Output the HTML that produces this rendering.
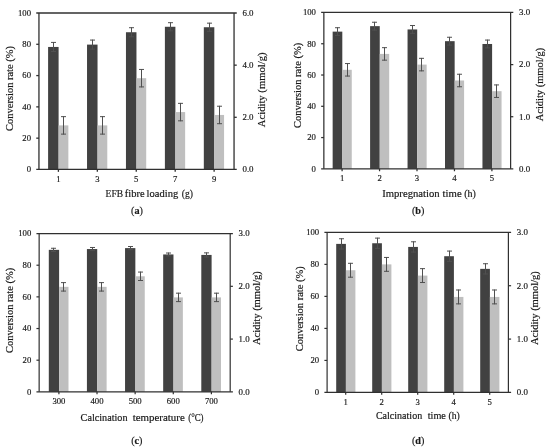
<!DOCTYPE html>
<html><head><meta charset="utf-8"><title>Figure</title>
<style>html,body{margin:0;padding:0;background:#fff;}svg{display:block}text{font-family:"Liberation Serif",serif;fill:#181818;stroke:#181818;stroke-width:0.17px;}</style>
</head><body>
<svg width="550" height="448" viewBox="0 0 550 448">
<rect width="550" height="448" fill="#ffffff"/>
<g id="chart-a">
<rect x="48.10" y="46.95" width="10.50" height="122.50" fill="#414141"/>
<rect x="58.60" y="125.38" width="9.75" height="44.07" fill="#bfbfbf"/>
<line x1="53.50" y1="42.01" x2="53.50" y2="51.89" stroke="#505050" stroke-width="1.0"/>
<line x1="51.00" y1="42.41" x2="56.00" y2="42.41" stroke="#505050" stroke-width="1.0"/>
<line x1="51.00" y1="51.49" x2="56.00" y2="51.49" stroke="#505050" stroke-width="1.0"/>
<line x1="63.50" y1="116.25" x2="63.50" y2="134.52" stroke="#505050" stroke-width="1.0"/>
<line x1="61.00" y1="116.65" x2="66.00" y2="116.65" stroke="#505050" stroke-width="1.0"/>
<line x1="61.00" y1="134.12" x2="66.00" y2="134.12" stroke="#505050" stroke-width="1.0"/>
<rect x="87.03" y="44.60" width="10.50" height="124.85" fill="#414141"/>
<rect x="97.53" y="125.38" width="9.75" height="44.07" fill="#bfbfbf"/>
<line x1="92.50" y1="39.67" x2="92.50" y2="49.54" stroke="#505050" stroke-width="1.0"/>
<line x1="90.00" y1="40.07" x2="95.00" y2="40.07" stroke="#505050" stroke-width="1.0"/>
<line x1="90.00" y1="49.14" x2="95.00" y2="49.14" stroke="#505050" stroke-width="1.0"/>
<line x1="102.50" y1="116.25" x2="102.50" y2="134.52" stroke="#505050" stroke-width="1.0"/>
<line x1="100.00" y1="116.65" x2="105.00" y2="116.65" stroke="#505050" stroke-width="1.0"/>
<line x1="100.00" y1="134.12" x2="105.00" y2="134.12" stroke="#505050" stroke-width="1.0"/>
<rect x="125.96" y="32.24" width="10.50" height="137.21" fill="#414141"/>
<rect x="136.46" y="78.19" width="9.75" height="91.26" fill="#bfbfbf"/>
<line x1="131.50" y1="27.31" x2="131.50" y2="37.18" stroke="#505050" stroke-width="1.0"/>
<line x1="129.00" y1="27.71" x2="134.00" y2="27.71" stroke="#505050" stroke-width="1.0"/>
<line x1="129.00" y1="36.78" x2="134.00" y2="36.78" stroke="#505050" stroke-width="1.0"/>
<line x1="141.50" y1="69.05" x2="141.50" y2="87.32" stroke="#505050" stroke-width="1.0"/>
<line x1="139.00" y1="69.45" x2="144.00" y2="69.45" stroke="#505050" stroke-width="1.0"/>
<line x1="139.00" y1="86.92" x2="144.00" y2="86.92" stroke="#505050" stroke-width="1.0"/>
<rect x="164.89" y="26.77" width="10.50" height="142.68" fill="#414141"/>
<rect x="175.39" y="112.08" width="9.75" height="57.37" fill="#bfbfbf"/>
<line x1="170.50" y1="22.30" x2="170.50" y2="31.24" stroke="#505050" stroke-width="1.0"/>
<line x1="168.00" y1="22.70" x2="173.00" y2="22.70" stroke="#505050" stroke-width="1.0"/>
<line x1="168.00" y1="30.84" x2="173.00" y2="30.84" stroke="#505050" stroke-width="1.0"/>
<line x1="180.50" y1="102.95" x2="180.50" y2="121.22" stroke="#505050" stroke-width="1.0"/>
<line x1="178.00" y1="103.35" x2="183.00" y2="103.35" stroke="#505050" stroke-width="1.0"/>
<line x1="178.00" y1="120.82" x2="183.00" y2="120.82" stroke="#505050" stroke-width="1.0"/>
<rect x="203.82" y="27.24" width="10.50" height="142.21" fill="#414141"/>
<rect x="214.32" y="114.95" width="9.75" height="54.50" fill="#bfbfbf"/>
<line x1="209.50" y1="22.77" x2="209.50" y2="31.70" stroke="#505050" stroke-width="1.0"/>
<line x1="207.00" y1="23.17" x2="212.00" y2="23.17" stroke="#505050" stroke-width="1.0"/>
<line x1="207.00" y1="31.30" x2="212.00" y2="31.30" stroke="#505050" stroke-width="1.0"/>
<line x1="219.50" y1="105.82" x2="219.50" y2="124.09" stroke="#505050" stroke-width="1.0"/>
<line x1="217.00" y1="106.22" x2="222.00" y2="106.22" stroke="#505050" stroke-width="1.0"/>
<line x1="217.00" y1="123.69" x2="222.00" y2="123.69" stroke="#505050" stroke-width="1.0"/>
<line x1="38.95" y1="13.00" x2="38.95" y2="169.45" stroke="#303030" stroke-width="1.3"/>
<line x1="234.05" y1="13.00" x2="234.05" y2="169.45" stroke="#303030" stroke-width="1.3"/>
<line x1="36.25" y1="13.00" x2="236.75" y2="13.00" stroke="#303030" stroke-width="1.3"/>
<line x1="36.25" y1="169.45" x2="236.75" y2="169.45" stroke="#303030" stroke-width="1.3"/>
<text x="31.05" y="172.30" font-size="8.7" text-anchor="end" >0</text>
<line x1="36.25" y1="138.16" x2="38.95" y2="138.16" stroke="#303030" stroke-width="1.3"/>
<text x="31.05" y="141.01" font-size="8.7" text-anchor="end" >20</text>
<line x1="36.25" y1="106.87" x2="38.95" y2="106.87" stroke="#303030" stroke-width="1.3"/>
<text x="31.05" y="109.72" font-size="8.7" text-anchor="end" >40</text>
<line x1="36.25" y1="75.58" x2="38.95" y2="75.58" stroke="#303030" stroke-width="1.3"/>
<text x="31.05" y="78.43" font-size="8.7" text-anchor="end" >60</text>
<line x1="36.25" y1="44.29" x2="38.95" y2="44.29" stroke="#303030" stroke-width="1.3"/>
<text x="31.05" y="47.14" font-size="8.7" text-anchor="end" >80</text>
<text x="31.05" y="15.85" font-size="8.7" text-anchor="end" >100</text>
<text x="242.45" y="172.30" font-size="8.7" text-anchor="start" textLength="11.1" lengthAdjust="spacingAndGlyphs">0.0</text>
<line x1="234.05" y1="117.30" x2="236.75" y2="117.30" stroke="#303030" stroke-width="1.3"/>
<text x="242.45" y="120.15" font-size="8.7" text-anchor="start" textLength="11.1" lengthAdjust="spacingAndGlyphs">2.0</text>
<line x1="234.05" y1="65.15" x2="236.75" y2="65.15" stroke="#303030" stroke-width="1.3"/>
<text x="242.45" y="68.00" font-size="8.7" text-anchor="start" textLength="11.1" lengthAdjust="spacingAndGlyphs">4.0</text>
<text x="242.45" y="15.85" font-size="8.7" text-anchor="start" textLength="11.1" lengthAdjust="spacingAndGlyphs">6.0</text>
<line x1="58.40" y1="169.45" x2="58.40" y2="171.85" stroke="#303030" stroke-width="1.3"/>
<text x="58.40" y="181.85" font-size="8.7" text-anchor="middle" >1</text>
<line x1="97.33" y1="169.45" x2="97.33" y2="171.85" stroke="#303030" stroke-width="1.3"/>
<text x="97.33" y="181.85" font-size="8.7" text-anchor="middle" >3</text>
<line x1="136.26" y1="169.45" x2="136.26" y2="171.85" stroke="#303030" stroke-width="1.3"/>
<text x="136.26" y="181.85" font-size="8.7" text-anchor="middle" >5</text>
<line x1="175.19" y1="169.45" x2="175.19" y2="171.85" stroke="#303030" stroke-width="1.3"/>
<text x="175.19" y="181.85" font-size="8.7" text-anchor="middle" >7</text>
<line x1="214.12" y1="169.45" x2="214.12" y2="171.85" stroke="#303030" stroke-width="1.3"/>
<text x="214.12" y="181.85" font-size="8.7" text-anchor="middle" >9</text>
<text x="105.60" y="197.00" font-size="9.7" text-anchor="start" textLength="17.4" lengthAdjust="spacingAndGlyphs">EFB</text>
<text x="124.80" y="197.00" font-size="9.7" text-anchor="start" textLength="19.8" lengthAdjust="spacingAndGlyphs">fibre</text>
<text x="146.60" y="197.00" font-size="9.7" text-anchor="start" textLength="31.6" lengthAdjust="spacingAndGlyphs">loading</text>
<text x="181.80" y="197.00" font-size="9.7" text-anchor="start" textLength="11.2" lengthAdjust="spacingAndGlyphs">(g)</text>
<text x="137.00" y="213.80" font-size="10.2" text-anchor="middle" >(<tspan font-weight="bold">a</tspan>)</text>
<text transform="translate(13.3,130.9) rotate(-90)" font-size="9.7" textLength="84.9" lengthAdjust="spacingAndGlyphs">Conversion rate (%)</text>
<text transform="translate(264.6,127.2) rotate(-90)" font-size="9.7" textLength="74.7" lengthAdjust="spacingAndGlyphs">Acidity (mmol/g)</text>
</g>
<g id="chart-b">
<rect x="332.65" y="31.63" width="9.65" height="137.22" fill="#414141"/>
<rect x="342.30" y="69.81" width="9.45" height="99.04" fill="#bfbfbf"/>
<line x1="337.50" y1="27.32" x2="337.50" y2="35.94" stroke="#505050" stroke-width="1.0"/>
<line x1="335.00" y1="27.72" x2="340.00" y2="27.72" stroke="#505050" stroke-width="1.0"/>
<line x1="335.00" y1="35.54" x2="340.00" y2="35.54" stroke="#505050" stroke-width="1.0"/>
<line x1="347.50" y1="63.15" x2="347.50" y2="76.46" stroke="#505050" stroke-width="1.0"/>
<line x1="345.00" y1="63.55" x2="350.00" y2="63.55" stroke="#505050" stroke-width="1.0"/>
<line x1="345.00" y1="76.06" x2="350.00" y2="76.06" stroke="#505050" stroke-width="1.0"/>
<rect x="370.10" y="26.15" width="9.65" height="142.70" fill="#414141"/>
<rect x="379.75" y="53.91" width="9.45" height="114.94" fill="#bfbfbf"/>
<line x1="374.50" y1="21.84" x2="374.50" y2="30.46" stroke="#505050" stroke-width="1.0"/>
<line x1="372.00" y1="22.24" x2="377.00" y2="22.24" stroke="#505050" stroke-width="1.0"/>
<line x1="372.00" y1="30.06" x2="377.00" y2="30.06" stroke="#505050" stroke-width="1.0"/>
<line x1="384.50" y1="47.26" x2="384.50" y2="60.57" stroke="#505050" stroke-width="1.0"/>
<line x1="382.00" y1="47.66" x2="387.00" y2="47.66" stroke="#505050" stroke-width="1.0"/>
<line x1="382.00" y1="60.17" x2="387.00" y2="60.17" stroke="#505050" stroke-width="1.0"/>
<rect x="407.55" y="29.44" width="9.65" height="139.41" fill="#414141"/>
<rect x="417.20" y="64.60" width="9.45" height="104.25" fill="#bfbfbf"/>
<line x1="412.50" y1="25.13" x2="412.50" y2="33.75" stroke="#505050" stroke-width="1.0"/>
<line x1="410.00" y1="25.53" x2="415.00" y2="25.53" stroke="#505050" stroke-width="1.0"/>
<line x1="410.00" y1="33.35" x2="415.00" y2="33.35" stroke="#505050" stroke-width="1.0"/>
<line x1="421.50" y1="57.94" x2="421.50" y2="71.25" stroke="#505050" stroke-width="1.0"/>
<line x1="419.00" y1="58.34" x2="424.00" y2="58.34" stroke="#505050" stroke-width="1.0"/>
<line x1="419.00" y1="70.85" x2="424.00" y2="70.85" stroke="#505050" stroke-width="1.0"/>
<rect x="445.00" y="41.17" width="9.65" height="127.68" fill="#414141"/>
<rect x="454.65" y="80.50" width="9.45" height="88.35" fill="#bfbfbf"/>
<line x1="449.50" y1="36.86" x2="449.50" y2="45.48" stroke="#505050" stroke-width="1.0"/>
<line x1="447.00" y1="37.26" x2="452.00" y2="37.26" stroke="#505050" stroke-width="1.0"/>
<line x1="447.00" y1="45.08" x2="452.00" y2="45.08" stroke="#505050" stroke-width="1.0"/>
<line x1="459.50" y1="73.84" x2="459.50" y2="87.15" stroke="#505050" stroke-width="1.0"/>
<line x1="457.00" y1="74.24" x2="462.00" y2="74.24" stroke="#505050" stroke-width="1.0"/>
<line x1="457.00" y1="86.75" x2="462.00" y2="86.75" stroke="#505050" stroke-width="1.0"/>
<rect x="482.45" y="43.98" width="9.65" height="124.87" fill="#414141"/>
<rect x="492.10" y="91.18" width="9.45" height="77.67" fill="#bfbfbf"/>
<line x1="487.50" y1="39.67" x2="487.50" y2="48.29" stroke="#505050" stroke-width="1.0"/>
<line x1="485.00" y1="40.07" x2="490.00" y2="40.07" stroke="#505050" stroke-width="1.0"/>
<line x1="485.00" y1="47.89" x2="490.00" y2="47.89" stroke="#505050" stroke-width="1.0"/>
<line x1="496.50" y1="84.53" x2="496.50" y2="97.84" stroke="#505050" stroke-width="1.0"/>
<line x1="494.00" y1="84.93" x2="499.00" y2="84.93" stroke="#505050" stroke-width="1.0"/>
<line x1="494.00" y1="97.44" x2="499.00" y2="97.44" stroke="#505050" stroke-width="1.0"/>
<line x1="323.85" y1="12.47" x2="323.85" y2="168.85" stroke="#303030" stroke-width="1.25"/>
<line x1="510.60" y1="12.47" x2="510.60" y2="168.85" stroke="#303030" stroke-width="1.25"/>
<line x1="321.15" y1="12.47" x2="513.30" y2="12.47" stroke="#303030" stroke-width="1.25"/>
<line x1="321.15" y1="168.85" x2="513.30" y2="168.85" stroke="#303030" stroke-width="1.25"/>
<text x="315.95" y="171.70" font-size="8.7" text-anchor="end" >0</text>
<line x1="321.15" y1="137.57" x2="323.85" y2="137.57" stroke="#303030" stroke-width="1.25"/>
<text x="315.95" y="140.42" font-size="8.7" text-anchor="end" >20</text>
<line x1="321.15" y1="106.30" x2="323.85" y2="106.30" stroke="#303030" stroke-width="1.25"/>
<text x="315.95" y="109.15" font-size="8.7" text-anchor="end" >40</text>
<line x1="321.15" y1="75.02" x2="323.85" y2="75.02" stroke="#303030" stroke-width="1.25"/>
<text x="315.95" y="77.87" font-size="8.7" text-anchor="end" >60</text>
<line x1="321.15" y1="43.75" x2="323.85" y2="43.75" stroke="#303030" stroke-width="1.25"/>
<text x="315.95" y="46.60" font-size="8.7" text-anchor="end" >80</text>
<text x="315.95" y="15.32" font-size="8.7" text-anchor="end" >100</text>
<text x="519.00" y="171.70" font-size="8.7" text-anchor="start" textLength="11.1" lengthAdjust="spacingAndGlyphs">0.0</text>
<line x1="510.60" y1="116.72" x2="513.30" y2="116.72" stroke="#303030" stroke-width="1.25"/>
<text x="519.00" y="119.57" font-size="8.7" text-anchor="start" textLength="11.1" lengthAdjust="spacingAndGlyphs">1.0</text>
<line x1="510.60" y1="64.60" x2="513.30" y2="64.60" stroke="#303030" stroke-width="1.25"/>
<text x="519.00" y="67.45" font-size="8.7" text-anchor="start" textLength="11.1" lengthAdjust="spacingAndGlyphs">2.0</text>
<text x="519.00" y="15.32" font-size="8.7" text-anchor="start" textLength="11.1" lengthAdjust="spacingAndGlyphs">3.0</text>
<line x1="342.10" y1="168.85" x2="342.10" y2="171.25" stroke="#303030" stroke-width="1.25"/>
<text x="342.10" y="181.25" font-size="8.7" text-anchor="middle" >1</text>
<line x1="379.55" y1="168.85" x2="379.55" y2="171.25" stroke="#303030" stroke-width="1.25"/>
<text x="379.55" y="181.25" font-size="8.7" text-anchor="middle" >2</text>
<line x1="417.00" y1="168.85" x2="417.00" y2="171.25" stroke="#303030" stroke-width="1.25"/>
<text x="417.00" y="181.25" font-size="8.7" text-anchor="middle" >3</text>
<line x1="454.45" y1="168.85" x2="454.45" y2="171.25" stroke="#303030" stroke-width="1.25"/>
<text x="454.45" y="181.25" font-size="8.7" text-anchor="middle" >4</text>
<line x1="491.90" y1="168.85" x2="491.90" y2="171.25" stroke="#303030" stroke-width="1.25"/>
<text x="491.90" y="181.25" font-size="8.7" text-anchor="middle" >5</text>
<text x="382.20" y="197.20" font-size="9.7" text-anchor="start" textLength="57.5" lengthAdjust="spacingAndGlyphs">Impregnation</text>
<text x="442.60" y="197.20" font-size="9.7" text-anchor="start" textLength="19.1" lengthAdjust="spacingAndGlyphs">time</text>
<text x="464.20" y="197.20" font-size="9.7" text-anchor="start" textLength="11.6" lengthAdjust="spacingAndGlyphs">(h)</text>
<text x="418.20" y="213.80" font-size="10.2" text-anchor="middle" >(<tspan font-weight="bold">b</tspan>)</text>
<text transform="translate(300.9,128.0) rotate(-90)" font-size="9.7" textLength="85.2" lengthAdjust="spacingAndGlyphs">Conversion rate (%)</text>
<text transform="translate(543.4,121.3) rotate(-90)" font-size="9.7" textLength="73.5" lengthAdjust="spacingAndGlyphs">Acidity (mmol/g)</text>
</g>
<g id="chart-c">
<rect x="48.80" y="249.85" width="10.30" height="142.00" fill="#414141"/>
<rect x="59.10" y="286.84" width="9.40" height="105.01" fill="#bfbfbf"/>
<line x1="53.50" y1="247.87" x2="53.50" y2="251.84" stroke="#505050" stroke-width="1.0"/>
<line x1="51.00" y1="248.27" x2="56.00" y2="248.27" stroke="#505050" stroke-width="1.0"/>
<line x1="51.00" y1="251.44" x2="56.00" y2="251.44" stroke="#505050" stroke-width="1.0"/>
<line x1="63.50" y1="282.22" x2="63.50" y2="291.47" stroke="#505050" stroke-width="1.0"/>
<line x1="61.00" y1="282.62" x2="66.00" y2="282.62" stroke="#505050" stroke-width="1.0"/>
<line x1="61.00" y1="291.07" x2="66.00" y2="291.07" stroke="#505050" stroke-width="1.0"/>
<rect x="86.92" y="249.06" width="10.30" height="142.79" fill="#414141"/>
<rect x="97.22" y="286.84" width="9.40" height="105.01" fill="#bfbfbf"/>
<line x1="92.50" y1="247.08" x2="92.50" y2="251.05" stroke="#505050" stroke-width="1.0"/>
<line x1="90.00" y1="247.48" x2="95.00" y2="247.48" stroke="#505050" stroke-width="1.0"/>
<line x1="90.00" y1="250.65" x2="95.00" y2="250.65" stroke="#505050" stroke-width="1.0"/>
<line x1="101.50" y1="282.22" x2="101.50" y2="291.47" stroke="#505050" stroke-width="1.0"/>
<line x1="99.00" y1="282.62" x2="104.00" y2="282.62" stroke="#505050" stroke-width="1.0"/>
<line x1="99.00" y1="291.07" x2="104.00" y2="291.07" stroke="#505050" stroke-width="1.0"/>
<rect x="125.05" y="248.11" width="10.30" height="143.74" fill="#414141"/>
<rect x="135.35" y="276.29" width="9.40" height="115.56" fill="#bfbfbf"/>
<line x1="130.50" y1="246.13" x2="130.50" y2="250.10" stroke="#505050" stroke-width="1.0"/>
<line x1="128.00" y1="246.53" x2="133.00" y2="246.53" stroke="#505050" stroke-width="1.0"/>
<line x1="128.00" y1="249.70" x2="133.00" y2="249.70" stroke="#505050" stroke-width="1.0"/>
<line x1="140.50" y1="271.67" x2="140.50" y2="280.91" stroke="#505050" stroke-width="1.0"/>
<line x1="138.00" y1="272.07" x2="143.00" y2="272.07" stroke="#505050" stroke-width="1.0"/>
<line x1="138.00" y1="280.51" x2="143.00" y2="280.51" stroke="#505050" stroke-width="1.0"/>
<rect x="163.17" y="254.45" width="10.30" height="137.40" fill="#414141"/>
<rect x="173.47" y="297.40" width="9.40" height="94.45" fill="#bfbfbf"/>
<line x1="168.50" y1="252.62" x2="168.50" y2="256.27" stroke="#505050" stroke-width="1.0"/>
<line x1="166.00" y1="253.02" x2="171.00" y2="253.02" stroke="#505050" stroke-width="1.0"/>
<line x1="166.00" y1="255.87" x2="171.00" y2="255.87" stroke="#505050" stroke-width="1.0"/>
<line x1="178.50" y1="292.78" x2="178.50" y2="302.02" stroke="#505050" stroke-width="1.0"/>
<line x1="176.00" y1="293.18" x2="181.00" y2="293.18" stroke="#505050" stroke-width="1.0"/>
<line x1="176.00" y1="301.62" x2="181.00" y2="301.62" stroke="#505050" stroke-width="1.0"/>
<rect x="201.30" y="254.92" width="10.30" height="136.93" fill="#414141"/>
<rect x="211.60" y="297.40" width="9.40" height="94.45" fill="#bfbfbf"/>
<line x1="206.50" y1="252.46" x2="206.50" y2="257.38" stroke="#505050" stroke-width="1.0"/>
<line x1="204.00" y1="252.86" x2="209.00" y2="252.86" stroke="#505050" stroke-width="1.0"/>
<line x1="204.00" y1="256.98" x2="209.00" y2="256.98" stroke="#505050" stroke-width="1.0"/>
<line x1="216.50" y1="292.78" x2="216.50" y2="302.02" stroke="#505050" stroke-width="1.0"/>
<line x1="214.00" y1="293.18" x2="219.00" y2="293.18" stroke="#505050" stroke-width="1.0"/>
<line x1="214.00" y1="301.62" x2="219.00" y2="301.62" stroke="#505050" stroke-width="1.0"/>
<line x1="39.15" y1="233.55" x2="39.15" y2="391.85" stroke="#303030" stroke-width="1.2"/>
<line x1="230.20" y1="233.55" x2="230.20" y2="391.85" stroke="#303030" stroke-width="1.2"/>
<line x1="36.45" y1="233.55" x2="232.90" y2="233.55" stroke="#303030" stroke-width="1.2"/>
<line x1="36.45" y1="391.85" x2="232.90" y2="391.85" stroke="#303030" stroke-width="1.2"/>
<text x="31.25" y="394.70" font-size="8.7" text-anchor="end" >0</text>
<line x1="36.45" y1="360.19" x2="39.15" y2="360.19" stroke="#303030" stroke-width="1.2"/>
<text x="31.25" y="363.04" font-size="8.7" text-anchor="end" >20</text>
<line x1="36.45" y1="328.53" x2="39.15" y2="328.53" stroke="#303030" stroke-width="1.2"/>
<text x="31.25" y="331.38" font-size="8.7" text-anchor="end" >40</text>
<line x1="36.45" y1="296.87" x2="39.15" y2="296.87" stroke="#303030" stroke-width="1.2"/>
<text x="31.25" y="299.72" font-size="8.7" text-anchor="end" >60</text>
<line x1="36.45" y1="265.21" x2="39.15" y2="265.21" stroke="#303030" stroke-width="1.2"/>
<text x="31.25" y="268.06" font-size="8.7" text-anchor="end" >80</text>
<text x="31.25" y="236.40" font-size="8.7" text-anchor="end" >100</text>
<text x="238.60" y="394.70" font-size="8.7" text-anchor="start" textLength="11.1" lengthAdjust="spacingAndGlyphs">0.0</text>
<line x1="230.20" y1="339.08" x2="232.90" y2="339.08" stroke="#303030" stroke-width="1.2"/>
<text x="238.60" y="341.93" font-size="8.7" text-anchor="start" textLength="11.1" lengthAdjust="spacingAndGlyphs">1.0</text>
<line x1="230.20" y1="286.32" x2="232.90" y2="286.32" stroke="#303030" stroke-width="1.2"/>
<text x="238.60" y="289.17" font-size="8.7" text-anchor="start" textLength="11.1" lengthAdjust="spacingAndGlyphs">2.0</text>
<text x="238.60" y="236.40" font-size="8.7" text-anchor="start" textLength="11.1" lengthAdjust="spacingAndGlyphs">3.0</text>
<line x1="58.90" y1="391.85" x2="58.90" y2="394.25" stroke="#303030" stroke-width="1.2"/>
<text x="58.90" y="404.25" font-size="8.7" text-anchor="middle" >300</text>
<line x1="97.02" y1="391.85" x2="97.02" y2="394.25" stroke="#303030" stroke-width="1.2"/>
<text x="97.02" y="404.25" font-size="8.7" text-anchor="middle" >400</text>
<line x1="135.15" y1="391.85" x2="135.15" y2="394.25" stroke="#303030" stroke-width="1.2"/>
<text x="135.15" y="404.25" font-size="8.7" text-anchor="middle" >500</text>
<line x1="173.28" y1="391.85" x2="173.28" y2="394.25" stroke="#303030" stroke-width="1.2"/>
<text x="173.28" y="404.25" font-size="8.7" text-anchor="middle" >600</text>
<line x1="211.40" y1="391.85" x2="211.40" y2="394.25" stroke="#303030" stroke-width="1.2"/>
<text x="211.40" y="404.25" font-size="8.7" text-anchor="middle" >700</text>
<text x="80.60" y="421.40" font-size="9.7" text-anchor="start" textLength="46.9" lengthAdjust="spacingAndGlyphs">Calcination</text>
<text x="132.70" y="421.40" font-size="9.7" text-anchor="start" textLength="52.1" lengthAdjust="spacingAndGlyphs">temperature</text>
<text x="188.20" y="421.40" font-size="9.7" text-anchor="start" textLength="15.4" lengthAdjust="spacingAndGlyphs">(°C)</text>
<text x="136.80" y="443.60" font-size="10.2" text-anchor="middle" >(<tspan font-weight="bold">c</tspan>)</text>
<text transform="translate(12.9,353.0) rotate(-90)" font-size="9.7" textLength="85.2" lengthAdjust="spacingAndGlyphs">Conversion rate (%)</text>
<text transform="translate(260.2,345.0) rotate(-90)" font-size="9.7" textLength="73.8" lengthAdjust="spacingAndGlyphs">Acidity (mmol/g)</text>
</g>
<g id="chart-d">
<rect x="336.20" y="243.89" width="9.70" height="148.56" fill="#414141"/>
<rect x="345.90" y="270.25" width="9.50" height="122.20" fill="#bfbfbf"/>
<line x1="341.50" y1="238.36" x2="341.50" y2="249.41" stroke="#505050" stroke-width="1.0"/>
<line x1="339.00" y1="238.76" x2="344.00" y2="238.76" stroke="#505050" stroke-width="1.0"/>
<line x1="339.00" y1="249.01" x2="344.00" y2="249.01" stroke="#505050" stroke-width="1.0"/>
<line x1="350.50" y1="262.91" x2="350.50" y2="277.59" stroke="#505050" stroke-width="1.0"/>
<line x1="348.00" y1="263.31" x2="353.00" y2="263.31" stroke="#505050" stroke-width="1.0"/>
<line x1="348.00" y1="277.19" x2="353.00" y2="277.19" stroke="#505050" stroke-width="1.0"/>
<rect x="372.20" y="243.25" width="9.70" height="149.20" fill="#414141"/>
<rect x="381.90" y="264.38" width="9.50" height="128.07" fill="#bfbfbf"/>
<line x1="377.50" y1="237.72" x2="377.50" y2="248.77" stroke="#505050" stroke-width="1.0"/>
<line x1="375.00" y1="238.12" x2="380.00" y2="238.12" stroke="#505050" stroke-width="1.0"/>
<line x1="375.00" y1="248.37" x2="380.00" y2="248.37" stroke="#505050" stroke-width="1.0"/>
<line x1="386.50" y1="257.04" x2="386.50" y2="271.72" stroke="#505050" stroke-width="1.0"/>
<line x1="384.00" y1="257.44" x2="389.00" y2="257.44" stroke="#505050" stroke-width="1.0"/>
<line x1="384.00" y1="271.32" x2="389.00" y2="271.32" stroke="#505050" stroke-width="1.0"/>
<rect x="408.20" y="246.93" width="9.70" height="145.52" fill="#414141"/>
<rect x="417.90" y="275.58" width="9.50" height="116.87" fill="#bfbfbf"/>
<line x1="413.50" y1="241.41" x2="413.50" y2="252.45" stroke="#505050" stroke-width="1.0"/>
<line x1="411.00" y1="241.81" x2="416.00" y2="241.81" stroke="#505050" stroke-width="1.0"/>
<line x1="411.00" y1="252.05" x2="416.00" y2="252.05" stroke="#505050" stroke-width="1.0"/>
<line x1="422.50" y1="268.25" x2="422.50" y2="282.92" stroke="#505050" stroke-width="1.0"/>
<line x1="420.00" y1="268.65" x2="425.00" y2="268.65" stroke="#505050" stroke-width="1.0"/>
<line x1="420.00" y1="282.52" x2="425.00" y2="282.52" stroke="#505050" stroke-width="1.0"/>
<rect x="444.20" y="256.21" width="9.70" height="136.24" fill="#414141"/>
<rect x="453.90" y="296.93" width="9.50" height="95.52" fill="#bfbfbf"/>
<line x1="449.50" y1="250.69" x2="449.50" y2="261.74" stroke="#505050" stroke-width="1.0"/>
<line x1="447.00" y1="251.09" x2="452.00" y2="251.09" stroke="#505050" stroke-width="1.0"/>
<line x1="447.00" y1="261.34" x2="452.00" y2="261.34" stroke="#505050" stroke-width="1.0"/>
<line x1="458.50" y1="289.59" x2="458.50" y2="304.27" stroke="#505050" stroke-width="1.0"/>
<line x1="456.00" y1="289.99" x2="461.00" y2="289.99" stroke="#505050" stroke-width="1.0"/>
<line x1="456.00" y1="303.87" x2="461.00" y2="303.87" stroke="#505050" stroke-width="1.0"/>
<rect x="480.20" y="268.86" width="9.70" height="123.59" fill="#414141"/>
<rect x="489.90" y="296.93" width="9.50" height="95.52" fill="#bfbfbf"/>
<line x1="485.50" y1="263.34" x2="485.50" y2="274.38" stroke="#505050" stroke-width="1.0"/>
<line x1="483.00" y1="263.74" x2="488.00" y2="263.74" stroke="#505050" stroke-width="1.0"/>
<line x1="483.00" y1="273.98" x2="488.00" y2="273.98" stroke="#505050" stroke-width="1.0"/>
<line x1="494.50" y1="289.59" x2="494.50" y2="304.27" stroke="#505050" stroke-width="1.0"/>
<line x1="492.00" y1="289.99" x2="497.00" y2="289.99" stroke="#505050" stroke-width="1.0"/>
<line x1="492.00" y1="303.87" x2="497.00" y2="303.87" stroke="#505050" stroke-width="1.0"/>
<line x1="327.10" y1="232.36" x2="327.10" y2="392.45" stroke="#303030" stroke-width="1.2"/>
<line x1="508.40" y1="232.36" x2="508.40" y2="392.45" stroke="#303030" stroke-width="1.2"/>
<line x1="324.40" y1="232.36" x2="511.10" y2="232.36" stroke="#303030" stroke-width="1.2"/>
<line x1="324.40" y1="392.45" x2="511.10" y2="392.45" stroke="#303030" stroke-width="1.2"/>
<text x="319.20" y="395.30" font-size="8.7" text-anchor="end" >0</text>
<line x1="324.40" y1="360.43" x2="327.10" y2="360.43" stroke="#303030" stroke-width="1.2"/>
<text x="319.20" y="363.28" font-size="8.7" text-anchor="end" >20</text>
<line x1="324.40" y1="328.41" x2="327.10" y2="328.41" stroke="#303030" stroke-width="1.2"/>
<text x="319.20" y="331.26" font-size="8.7" text-anchor="end" >40</text>
<line x1="324.40" y1="296.40" x2="327.10" y2="296.40" stroke="#303030" stroke-width="1.2"/>
<text x="319.20" y="299.25" font-size="8.7" text-anchor="end" >60</text>
<line x1="324.40" y1="264.38" x2="327.10" y2="264.38" stroke="#303030" stroke-width="1.2"/>
<text x="319.20" y="267.23" font-size="8.7" text-anchor="end" >80</text>
<text x="319.20" y="235.21" font-size="8.7" text-anchor="end" >100</text>
<text x="516.80" y="395.30" font-size="8.7" text-anchor="start" textLength="11.1" lengthAdjust="spacingAndGlyphs">0.0</text>
<line x1="508.40" y1="339.09" x2="511.10" y2="339.09" stroke="#303030" stroke-width="1.2"/>
<text x="516.80" y="341.94" font-size="8.7" text-anchor="start" textLength="11.1" lengthAdjust="spacingAndGlyphs">1.0</text>
<line x1="508.40" y1="285.72" x2="511.10" y2="285.72" stroke="#303030" stroke-width="1.2"/>
<text x="516.80" y="288.57" font-size="8.7" text-anchor="start" textLength="11.1" lengthAdjust="spacingAndGlyphs">2.0</text>
<text x="516.80" y="235.21" font-size="8.7" text-anchor="start" textLength="11.1" lengthAdjust="spacingAndGlyphs">3.0</text>
<line x1="345.70" y1="392.45" x2="345.70" y2="394.85" stroke="#303030" stroke-width="1.2"/>
<text x="345.70" y="404.85" font-size="8.7" text-anchor="middle" >1</text>
<line x1="381.70" y1="392.45" x2="381.70" y2="394.85" stroke="#303030" stroke-width="1.2"/>
<text x="381.70" y="404.85" font-size="8.7" text-anchor="middle" >2</text>
<line x1="417.70" y1="392.45" x2="417.70" y2="394.85" stroke="#303030" stroke-width="1.2"/>
<text x="417.70" y="404.85" font-size="8.7" text-anchor="middle" >3</text>
<line x1="453.70" y1="392.45" x2="453.70" y2="394.85" stroke="#303030" stroke-width="1.2"/>
<text x="453.70" y="404.85" font-size="8.7" text-anchor="middle" >4</text>
<line x1="489.70" y1="392.45" x2="489.70" y2="394.85" stroke="#303030" stroke-width="1.2"/>
<text x="489.70" y="404.85" font-size="8.7" text-anchor="middle" >5</text>
<text x="375.90" y="418.50" font-size="9.7" text-anchor="start" textLength="46.3" lengthAdjust="spacingAndGlyphs">Calcination</text>
<text x="427.70" y="418.50" font-size="9.7" text-anchor="start" textLength="18.2" lengthAdjust="spacingAndGlyphs">time</text>
<text x="448.40" y="418.50" font-size="9.7" text-anchor="start" textLength="11.4" lengthAdjust="spacingAndGlyphs">(h)</text>
<text x="418.20" y="443.60" font-size="10.2" text-anchor="middle" >(<tspan font-weight="bold">d</tspan>)</text>
<text transform="translate(302.8,351.3) rotate(-90)" font-size="9.7" textLength="85.1" lengthAdjust="spacingAndGlyphs">Conversion rate (%)</text>
<text transform="translate(537.5,345.0) rotate(-90)" font-size="9.7" textLength="73.8" lengthAdjust="spacingAndGlyphs">Acidity (mmol/g)</text>
</g>
</svg>
</body></html>
